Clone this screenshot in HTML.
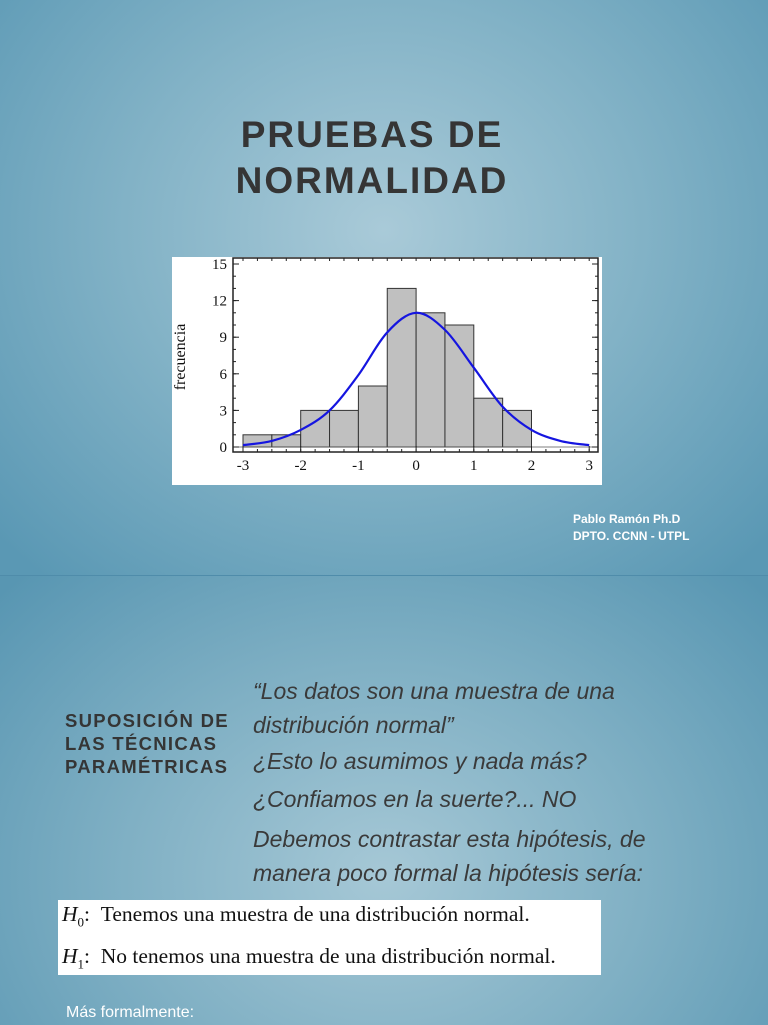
<!DOCTYPE html>
<html><head><meta charset="utf-8"><style>
body{margin:0;width:768px;height:1024px;overflow:hidden;font-family:"Liberation Sans",sans-serif;}
.s1{position:absolute;left:0;top:0;width:768px;height:575px;background:radial-gradient(ellipse 520px 460px at 384px 230px,#a9cad8 0%,#82b2c6 50%,#5a98b4 100%);}
.s2{position:absolute;left:0;top:575px;width:768px;height:449px;background:radial-gradient(ellipse 520px 420px at 384px 300px,#a6c8d6 0%,#80b0c4 50%,#5896b2 100%);border-top:1px solid #4f8caa;}
.t{position:absolute;white-space:nowrap;}
</style></head><body>
<div class="s1"></div>
<div class="s2"></div>
<div class="t" style="left:0;width:744px;top:112px;text-align:center;font-weight:bold;font-size:37px;letter-spacing:2px;line-height:46px;color:#353535;">PRUEBAS DE<br>NORMALIDAD</div>
<svg id="chart" style="position:absolute;left:172px;top:257px" width="430" height="228"></svg>
<div class="t" style="left:573px;top:511px;font-size:12px;font-weight:bold;color:#fff;line-height:17px;">Pablo Ramón Ph.D<br>DPTO. CCNN - UTPL</div>
<div class="t" style="left:65px;top:709px;font-size:18.5px;font-weight:bold;letter-spacing:1.3px;line-height:23px;color:#353535;">SUPOSICIÓN DE<br>LAS TÉCNICAS<br>PARAMÉTRICAS</div>
<div class="t" style="left:253px;top:674px;font-size:23px;font-style:italic;color:#3a3a3a;line-height:34px;">“Los datos son una muestra de una<br>distribución normal”<br><span style="display:inline-block;margin-top:2px">¿Esto lo asumimos y nada más?</span><br><span style="display:inline-block;margin-top:4px">¿Confiamos en la suerte?... NO</span><br><span style="display:inline-block;margin-top:6px">Debemos contrastar esta hipótesis, de</span><br>manera poco formal la hipótesis sería:</div>
<div style="position:absolute;left:58px;top:900px;width:543px;height:75px;background:#fff;font-family:'Liberation Serif',serif;font-size:21.5px;color:#111;">
<div class="t" style="left:4px;top:2px"><i>H</i><sub style="font-size:13px">0</sub>: &nbsp;Tenemos una muestra de una distribución normal.</div>
<div class="t" style="left:4px;top:44px"><i>H</i><sub style="font-size:13px">1</sub>: &nbsp;No tenemos una muestra de una distribución normal.</div>
</div>
<div class="t" style="left:66px;top:1004px;font-size:16px;color:#fff;">Más formalmente:</div>
<script>
const binStarts=[-3,-2.5,-2,-1.5,-1,-0.5,0,0.5,1,1.5];
const binWidth=0.5;
const counts=[1,1,3,3,5,13,11,10,4,3];
const curveX=[-3,-2.5,-2,-1.5,-1,-0.5,0,0.5,1,1.5,2,2.5,3];
const curveY=[0.15,0.5,1.4,3.0,5.9,9.4,11,9.6,6.5,3.3,1.4,0.5,0.15];
const yTicks=[0,3,6,9,12,15];
const xTicks=[-3,-2,-1,0,1,2,3];
const svg=document.getElementById('chart');const NS='http://www.w3.org/2000/svg';
const X=v=>71+(v+3)*57.7, Y=v=>190-v*12.2;
function el(t,a,p){const e=document.createElementNS(NS,t);for(const k in a)e.setAttribute(k,a[k]);(p||svg).appendChild(e);return e;}
el('rect',{x:0,y:0,width:430,height:228,fill:'#fff'});
binStarts.forEach((b,i)=>{const r=el('rect',{x:X(b),y:Y(counts[i]),width:X(b+binWidth)-X(b),height:Y(0)-Y(counts[i]),fill:'#c0c0c0',stroke:'#333','stroke-width':1});

});
el('line',{x1:61,x2:426,y1:Y(0),y2:Y(0),stroke:'#555','stroke-width':0.8});
el('rect',{x:61,y:1,width:365,height:194,fill:'none',stroke:'#222','stroke-width':1.5});
for(let v=0;v<=15;v++){el('line',{x1:61,x2:64,y1:Y(v),y2:Y(v),stroke:'#222'});el('line',{x1:423,x2:426,y1:Y(v),y2:Y(v),stroke:'#222'});}
for(let v=-3;v<=3.01;v+=0.25){el('line',{x1:X(v),x2:X(v),y1:195,y2:192,stroke:'#222'});el('line',{x1:X(v),x2:X(v),y1:1,y2:4,stroke:'#222'});}
yTicks.forEach(v=>{el('line',{x1:61,x2:67,y1:Y(v),y2:Y(v),stroke:'#222'});el('line',{x1:420,x2:426,y1:Y(v),y2:Y(v),stroke:'#222'});
const t=el('text',{x:55,y:Y(v)+5,'text-anchor':'end','font-size':15,'font-family':'Liberation Serif,serif',fill:'#111'});t.textContent=v;

});
xTicks.forEach(v=>{el('line',{x1:X(v),x2:X(v),y1:195,y2:189,stroke:'#222'});
const t=el('text',{x:X(v),y:213,'text-anchor':'middle','font-size':15,'font-family':'Liberation Serif,serif',fill:'#111'});t.textContent=v;

});
const pts=curveX.map((x,i)=>[X(x),Y(curveY[i])]);
let d='M'+pts[0][0]+','+pts[0][1];
for(let i=0;i<pts.length-1;i++){const p0=pts[Math.max(0,i-1)],p1=pts[i],p2=pts[i+1],p3=pts[Math.min(pts.length-1,i+2)];
d+=' C'+(p1[0]+(p2[0]-p0[0])/6)+','+(p1[1]+(p2[1]-p0[1])/6)+' '+(p2[0]-(p3[0]-p1[0])/6)+','+(p2[1]-(p3[1]-p1[1])/6)+' '+p2[0]+','+p2[1];}
const p=el('path',{d:d,fill:'none',stroke:'#1515e0','stroke-width':2.2,'stroke-linejoin':'round'});


const yl=el('text',{x:0,y:0,transform:'translate(13,100) rotate(-90)','text-anchor':'middle','font-size':16,'font-family':'Liberation Serif,serif',fill:'#111'});yl.textContent='frecuencia';


</script>
</body></html>
